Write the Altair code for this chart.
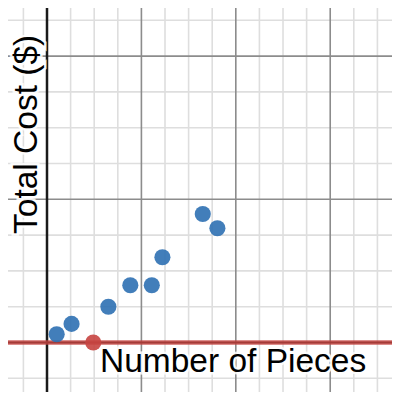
import pandas as pd
import altair as alt

# Values (x in units of 1/5 minor grid step, y likewise)
blue_x = [2.05, 5.2, 13.0, 17.65, 22.2, 24.45, 33.0, 36.1]
blue_y = [1.15, 2.6, 5.0, 8.0, 8.0, 11.9, 17.95, 15.95]
red_x = [9.8]
red_y = [0]

x_minor = [-5, 5, 10, 15, 25, 30, 35, 45, 50, 55, 65, 70]
x_major = [20, 40, 60]
y_minor = [-5, 5, 10, 15, 25, 30, 35, 45]
y_major = [20, 40]

x_title = "Number of Pieces"
y_title = "Total Cost ($)"

W, H = 384, 384
xs = alt.Scale(domain=[-8.263, 73.09], nice=False, zero=False)
ys = alt.Scale(domain=[-6.913, 46.72], nice=False, zero=False)


def vrules(vals, color, width):
    return alt.Chart(pd.DataFrame({"v": vals})).mark_rule(
        color=color, strokeWidth=width
    ).encode(x=alt.X("v:Q", scale=xs, axis=None))


def hrules(vals, color, width, opacity=1.0):
    return alt.Chart(pd.DataFrame({"v": vals})).mark_rule(
        color=color, strokeWidth=width, opacity=opacity
    ).encode(y=alt.Y("v:Q", scale=ys, axis=None))


minor = vrules(x_minor, "#dedede", 1.6) + hrules(y_minor, "#dedede", 1.6)
major = vrules(x_major, "#8c8c8c", 1.6) + hrules(y_major, "#8c8c8c", 1.6)
axes = vrules([0], "#1a1a1a", 2.5) + hrules([0], "#1a1a1a", 2)
red_line = hrules([0], "#c74440", 4.5, 0.8)

pts_blue = alt.Chart(pd.DataFrame({"x": blue_x, "y": blue_y})).mark_circle(
    size=260, color="#2d70b3", opacity=0.9
).encode(
    x=alt.X("x:Q", scale=xs, axis=None),
    y=alt.Y("y:Q", scale=ys, axis=None),
)
pts_red = alt.Chart(pd.DataFrame({"x": red_x, "y": red_y})).mark_circle(
    size=260, color="#c74440", opacity=0.9
).encode(
    x=alt.X("x:Q", scale=xs, axis=None),
    y=alt.Y("y:Q", scale=ys, axis=None),
)


def label(text, x, y, angle, halo):
    opts = dict(
        text=text, align="left", baseline="alphabetic", fontSize=33.5,
        font="Liberation Sans", color="#000000", angle=angle,
    )
    if halo:
        opts.update(stroke="#ffffff", strokeWidth=5, strokeOpacity=0.85, color="#ffffff")
    return alt.Chart(pd.DataFrame({"t": [text]})).mark_text(**opts).encode(
        x=alt.value(x), y=alt.value(y)
    )


labels = (
    label(x_title, 92, 364, 0, True) + label(x_title, 92, 364, 0, False)
    + label(y_title, 29, 226, 270, True) + label(y_title, 29, 226, 270, False)
)

chart = (
    alt.layer(minor, major, axes, red_line, pts_blue, pts_red, labels)
    .properties(width=W, height=H, padding=0, autosize=alt.AutoSizeParams(type="none"),
                background="#ffffff")
    .configure_view(strokeWidth=0)
)

chart.save("out.html", embed_options={"renderer": "svg", "actions": False})
